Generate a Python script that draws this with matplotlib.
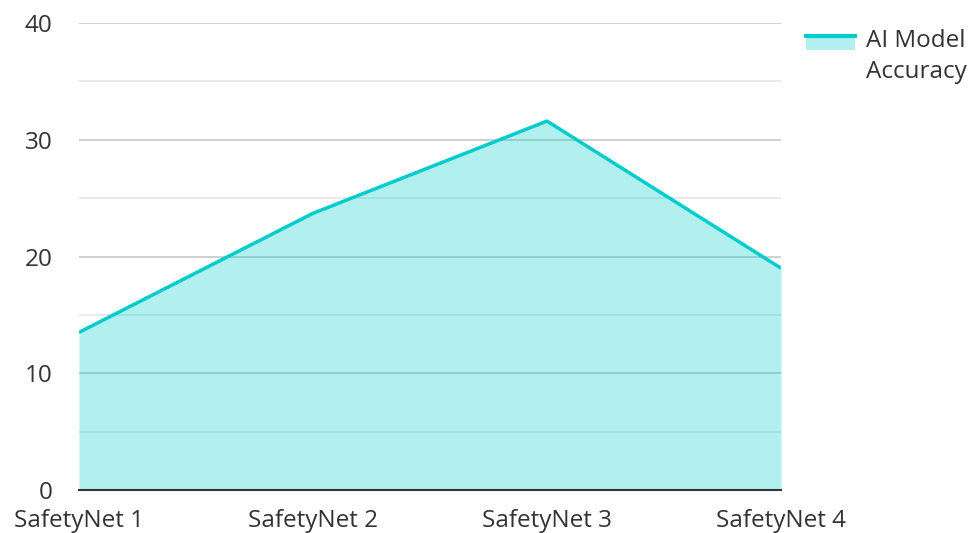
import matplotlib
matplotlib.use("Agg")
import matplotlib.pyplot as plt
from matplotlib.patches import Rectangle
from matplotlib.lines import Line2D

# data
categories = ["SafetyNet 1", "SafetyNet 2", "SafetyNet 3", "SafetyNet 4"]
accuracy = [13.5, 23.7, 31.6, 19.0]
y_ticks = [0, 10, 20, 30, 40]
series_name = "AI Model\nAccuracy"

LINE_COLOR = "#00cccc"
TEXT_COLOR = "#333333"

plt.rcParams["font.family"] = ["Open Sans", "DejaVu Sans"]


# legend handle: filled box with the line along its top edge, level with the first text line
class FillLineHandler:
    def legend_artist(self, legend, orig_handle, fontsize, handlebox):
        x0, y0 = handlebox.xdescent, handlebox.ydescent
        w, h = handlebox.width, handlebox.height
        top = y0 + h + 10
        rect = Rectangle((x0, top - 11), w, 11, facecolor=LINE_COLOR, alpha=0.3,
                         edgecolor="none", transform=handlebox.get_transform())
        line = Line2D([x0, x0 + w], [top - 1.2, top - 1.2], color=LINE_COLOR, lw=3,
                      transform=handlebox.get_transform())
        handlebox.add_artist(rect)
        handlebox.add_artist(line)
        return rect


fig = plt.figure(figsize=(9.71, 5.33), dpi=100)
ax = fig.add_axes([79 / 971, 43 / 533, 702 / 971, 467 / 533])

x = list(range(len(categories)))
ax.fill_between(x, accuracy, 0, color=LINE_COLOR, alpha=0.3, linewidth=0, zorder=2)
line, = ax.plot(x, accuracy, color=LINE_COLOR, lw=2.5, zorder=3, solid_capstyle="butt")

ax.set_xlim(0, len(categories) - 1)
ax.set_ylim(0, 40)
ax.set_xticks(x)
ax.set_xticklabels(categories)
ax.set_yticks(y_ticks)
ax.set_yticks([5, 15, 25, 35], minor=True)

ax.grid(axis="y", which="major", color="#c8c8c8", lw=1.2, zorder=1)
ax.grid(axis="y", which="minor", color="#e6e6e6", lw=1.2, zorder=1)
ax.set_axisbelow(True)

for side in ["top", "right", "left"]:
    ax.spines[side].set_visible(False)
ax.spines["bottom"].set_color(TEXT_COLOR)
ax.spines["bottom"].set_linewidth(1.5)
ax.spines["bottom"].set_zorder(4)

ax.tick_params(axis="both", which="both", length=0, labelsize=17.5, labelcolor=TEXT_COLOR)
ax.tick_params(axis="x", pad=14)
ax.tick_params(axis="y", pad=19)

leg = fig.legend([line], [series_name], handler_map={Line2D: FillLineHandler()},
                 loc="upper left", bbox_to_anchor=(0.813, 0.978), frameon=False,
                 fontsize=17.5, handlelength=2.0, handleheight=0.7, handletextpad=0.45,
                 labelcolor=TEXT_COLOR, borderpad=0.2)
for t in leg.get_texts():
    t.set_linespacing(1.4)

fig.savefig("out.png", dpi=100)
